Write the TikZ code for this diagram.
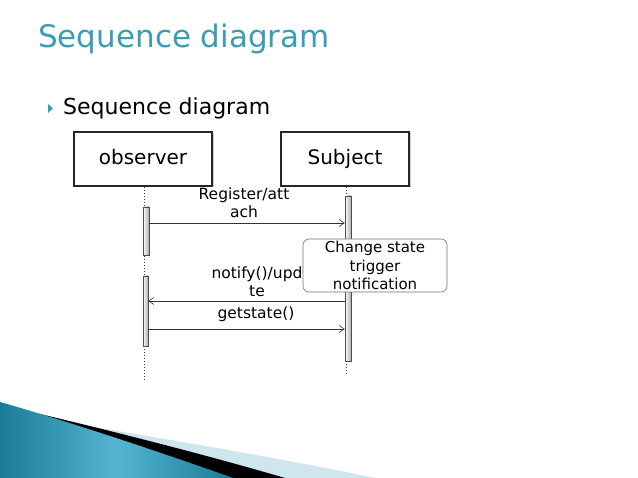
\documentclass[tikz,border=0pt]{standalone}
\usepackage{fontspec}
\setmainfont{DejaVu Sans}
\usetikzlibrary{positioning,arrows.meta,shadows}
\definecolor{titleteal}{HTML}{3A9DB3}
\definecolor{swdark}{HTML}{1A7C98}
\definecolor{swlight}{HTML}{55B5D2}
\definecolor{swpale}{HTML}{D0E6EF}

\begin{document}
\begin{tikzpicture}[x=1pt,y=-1pt,
	titletext/.style={anchor=base west,inner sep=0pt,text=titleteal,font=\fontsize{31}{37}\selectfont},
	subtext/.style={anchor=base west,inner sep=0pt,font=\fontsize{22}{26}\selectfont},
	actor/.style={draw=black!85,line width=2pt,fill=white,minimum width=138pt,minimum height=54pt,
		text height=15pt,text depth=4pt,
		drop shadow={shadow xshift=1.5pt,shadow yshift=-1.5pt,opacity=0.4},font=\fontsize{20}{24}\selectfont},
	actbar/.style={draw=black!70,line width=0.5pt,left color=white,right color=gray!65,minimum width=6pt,inner sep=0pt},
	life/.style={draw=black!75,line width=0.5pt,dash pattern=on 1.5pt off 1.5pt},
	msg/.style={draw=black!80,line width=0.6pt,-{Straight Barb[length=5pt,width=7pt]}},
	lbl/.style={align=center,inner sep=0pt,font=\fontsize{15.5}{18}\selectfont},
	note/.style={draw=black!55,line width=0.6pt,rounded corners=6pt,fill=white,minimum width=144pt,
		minimum height=53pt,inner sep=0pt,align=center,font=\fontsize{15}{18.8}\selectfont}]
	\useasboundingbox (0,0) rectangle (638,478);
	
	% 底部装饰条
	\fill[swpale] (58,421) .. controls (160,438) and (280,458) .. (375,478) -- (0,478) -- cycle;
	\fill[black] (36,413) .. controls (120,433) and (210,456) .. (285,478) -- (0,478) -- cycle;
	\shade[left color=swdark,right color=swdark,middle color=swlight]
		(0,402) .. controls (70,422) and (160,452) .. (233,478) -- (0,478) -- cycle;
	
	% 标题
	\node[titletext] (title) at (38,48) {Sequence diagram};
	\fill[titleteal] (48,104) -- (53,108.5) -- (48,113) -- cycle;
	\node[subtext] (sub) at (63,115) {Sequence diagram};
	
	% 对象框
	\node[actor] (obs) at (143,159) {observer};
	\node[actor,minimum width=128pt] (subj) at (345,159) {Subject};
	
	% 生命线
	\coordinate (obsend) at (144,382);
	\coordinate (subjend) at (346,376);
	\draw[life] (obs.south -| obsend) -- (obsend);
	\draw[life] (subj.south -| subjend) -- (subjend);
	
	% 激活条
	\node[actbar,minimum height=48pt] (oa1) at (146,231) {};
	\node[actbar,minimum height=70pt,minimum width=5pt] (oa2) at (145.5,311) {};
	\node[actbar,minimum height=165pt] (sa) at (348,278.5) {};
	
	% 注释框
	\node[note] (nt) at (375,265.5) {Change state\\trigger\\notification};
	
	% 消息
	\coordinate (reg) at (0,223);
	\coordinate (ntf) at (0,301);
	\coordinate (get) at (0,329);
	\draw[msg] (oa1.east |- reg) -- (sa.west |- reg);
	\draw[msg] (sa.west |- ntf) -- (oa2.east |- ntf);
	\draw[msg] (oa2.east |- get) -- (sa.west |- get);
	\node[lbl,anchor=south] (reglbl) at (244,218) {Register/att\\ach};
	\node[lbl,anchor=south] (ntflbl) at (257,297) {notify()/upd\\te};
	\node[lbl,anchor=base] (getlbl) at (256,319) {getstate()};
\end{tikzpicture}
\end{document}
